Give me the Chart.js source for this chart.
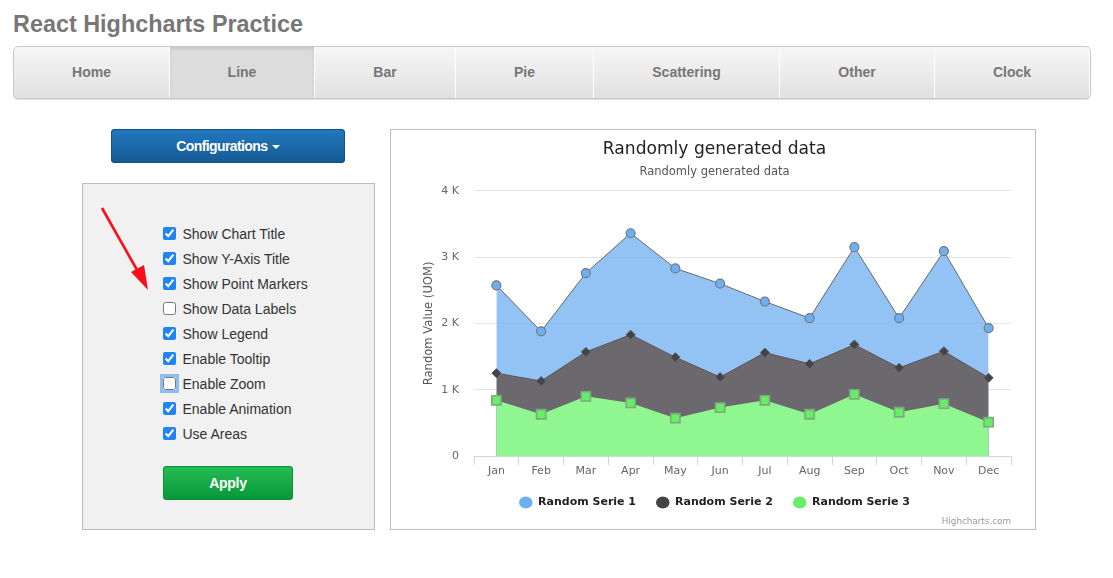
<!DOCTYPE html>
<html>
<head>
<meta charset="utf-8">
<title>React Highcharts Practice</title>
<script src="https://cdn.jsdelivr.net/npm/chart.js@4/dist/chart.umd.min.js"></script>
<style>
  html, body { margin: 0; padding: 0; background: #fff; }
  body { width: 1113px; height: 578px; position: relative; overflow: hidden; font-family: "Liberation Sans", Arial, sans-serif; }
  h1 { position: absolute; left: 13px; top: 10px; margin: 0; font-size: 23.4px; line-height: 28px; font-weight: bold; color: #777; }
  #nav { position: absolute; left: 13px; top: 46px; width: 1076px; height: 51px; border: 1px solid #c8c8c8; border-radius: 5px; background: linear-gradient(#f6f6f6, #e1e1e1); box-shadow: 0 1px 1px #ddd; overflow: hidden; }
  #nav div { position: absolute; top: 0; height: 51px; line-height: 51px; text-align: center; font-size: 14px; font-weight: bold; color: #777; border-right: 1px solid #fff; box-sizing: border-box; }
  #nav div.active { background: #dcdcdc; box-shadow: inset 0 2px 3px #c4c4c4; }
  #configBtn { position: absolute; left: 111px; top: 129px; width: 234px; height: 34px; line-height: 34px; text-align: center; color: #fff; font-size: 14px; font-weight: bold; letter-spacing: -0.6px; border-radius: 4px; background: linear-gradient(#2279c0, #155a92); box-shadow: inset 0 0 0 1px #14507f; }
  #configBtn i { display: inline-block; width: 0; height: 0; margin-left: 1px; vertical-align: middle; border-top: 4px solid #fff; border-left: 4px solid transparent; border-right: 4px solid transparent; }
  #panel { position: absolute; left: 82px; top: 183px; width: 291px; height: 345px; border: 1px solid #bbb; background: #f1f1f1; }
  .opt { position: absolute; left: 163px; height: 20px; line-height: 20px; font-size: 14px; color: #333; white-space: nowrap; }
  .opt input { position: absolute; left: 0; top: 3px; width: 13px; height: 13px; margin: 0; accent-color: #1f84f5; }
  .opt span { position: absolute; left: 19.5px; top: 0; }
  .opt.focus input { box-shadow: 0 0 0 3px #8dbdf5; border-radius: 2px; }
  #applyBtn { position: absolute; left: 163px; top: 466px; width: 130px; height: 34px; line-height: 34px; text-align: center; color: #fff; font-size: 14px; font-weight: bold; letter-spacing: -0.3px; border-radius: 4px; background: linear-gradient(#25bd52, #07973a); box-shadow: inset 0 0 0 1px #0d8c3a; }
  #arrow { position: absolute; left: 0; top: 0; }
  #chartBox { position: absolute; left: 390px; top: 129px; width: 644px; height: 399px; border: 1px solid #bbb; background: #fff; }
  #chartBox canvas { position: absolute; left: 0; top: 0; }
  #credit { position: absolute; right: 24px; top: 385px; font-family: "DejaVu Sans", sans-serif; font-size: 8.8px; line-height: 12px; color: #999; }
</style>
</head>
<body>
<h1>React Highcharts Practice</h1>
<div id="nav"></div>
<div id="configBtn">Configurations <i></i></div>
<div id="panel"></div>
<div id="options"></div>
<div id="applyBtn">Apply</div>
<svg id="arrow" width="200" height="320">
  <line x1="102" y1="208" x2="141" y2="277" stroke="#fb0d1b" stroke-width="2.6"/>
  <polygon points="148,290 131,272 144,265" fill="#fb0d1b"/>
</svg>
<div id="chartBox">
  <canvas id="chart" width="644" height="399"></canvas>
  <div id="credit">Highcharts.com</div>
</div>

<script>
// Chart data
const months = ['Jan', 'Feb', 'Mar', 'Apr', 'May', 'Jun', 'Jul', 'Aug', 'Sep', 'Oct', 'Nov', 'Dec'];
const serie1 = [2575, 1880, 2760, 3360, 2830, 2600, 2330, 2080, 3150, 2080, 3090, 1930];
const serie2 = [1250, 1130, 1570, 1830, 1490, 1190, 1560, 1390, 1680, 1330, 1580, 1180];
const serie3 = [840, 630, 900, 800, 570, 730, 840, 630, 930, 660, 790, 510];
const serieNames = ['Random Serie 1', 'Random Serie 2', 'Random Serie 3'];
const yTicks = [0, 1000, 2000, 3000, 4000];

// Page furniture
const navItems = ['Home', 'Line', 'Bar', 'Pie', 'Scattering', 'Other', 'Clock'];
const navEdges = [0, 156, 301, 442, 580, 766, 921, 1076];
const optionLabels = ['Show Chart Title', 'Show Y-Axis Title', 'Show Point Markers', 'Show Data Labels', 'Show Legend', 'Enable Tooltip', 'Enable Zoom', 'Enable Animation', 'Use Areas'];
const optionChecked = [true, true, true, false, true, true, false, true, true];

const nav = document.getElementById('nav');
navItems.forEach((name, i) => {
  const item = document.createElement('div');
  item.textContent = name;
  item.style.left = navEdges[i] + 'px';
  item.style.width = (navEdges[i + 1] - navEdges[i]) + 'px';
  if (name === 'Line') item.className = 'active';
  nav.appendChild(item);
});

const optionsBox = document.getElementById('options');
optionLabels.forEach((label, i) => {
  const row = document.createElement('label');
  row.className = 'opt' + (label === 'Enable Zoom' ? ' focus' : '');
  row.style.top = (224 + i * 25) + 'px';
  const box = document.createElement('input');
  box.type = 'checkbox';
  box.checked = optionChecked[i];
  const text = document.createElement('span');
  text.textContent = label;
  row.appendChild(box);
  row.appendChild(text);
  optionsBox.appendChild(row);
});

const chartFont = '"DejaVu Sans", sans-serif';
const legendColors = ['#6cb0f3', '#434348', '#66ee66'];

new Chart(document.getElementById('chart'), {
  type: 'line',
  data: {
    labels: months,
    datasets: [
      {
        label: serieNames[0], data: serie1, order: 3, fill: 'origin',
        backgroundColor: 'rgba(119, 180, 241, 0.8)', borderColor: '#666', borderWidth: 1,
        pointStyle: 'circle', pointRadius: 4.5, pointBackgroundColor: '#6cb0f3',
        pointBorderColor: '#777', pointBorderWidth: 1.2
      },
      {
        label: serieNames[1], data: serie2, order: 2, fill: 'origin',
        backgroundColor: 'rgba(101, 90, 86, 0.85)', borderColor: '#555', borderWidth: 1,
        pointStyle: 'rectRot', pointRadius: 4.5, pointBackgroundColor: '#434348',
        pointBorderColor: '#555', pointBorderWidth: 1
      },
      {
        label: serieNames[2], data: serie3, order: 1, fill: 'origin',
        backgroundColor: '#90f790', borderColor: '#777', borderWidth: 0,
        pointStyle: 'rect', pointRadius: 6.5, pointBackgroundColor: '#66ee66',
        pointBorderColor: '#7fa87f', pointBorderWidth: 1.6
      }
    ]
  },
  options: {
    responsive: false,
    animation: false,
    tension: 0,
    layout: { padding: { left: 27, right: 24, top: 9, bottom: 11 } },
    plugins: {
      title: {
        display: true, text: 'Randomly generated data', color: '#222',
        font: { family: chartFont, size: 17.1, weight: 'normal' },
        padding: { top: 0, bottom: 6 }
      },
      subtitle: {
        display: true, text: 'Randomly generated data', color: '#555',
        font: { family: chartFont, size: 11.5, weight: 'normal' },
        padding: { top: 0, bottom: 11.5 }
      },
      legend: {
        position: 'bottom',
        labels: {
          usePointStyle: true, pointStyle: 'circle', boxHeight: 8.5, pointStyleWidth: 13.5, padding: 20,
          color: '#222', font: { family: chartFont, size: 11, weight: 'bold' },
          generateLabels: () => serieNames.map((name, i) => ({
            text: name,
            datasetIndex: i,
            fontColor: '#222',
            fillStyle: legendColors[i],
            strokeStyle: legendColors[i],
            lineWidth: 0,
            pointStyle: 'circle'
          }))
        }
      },
      tooltip: { enabled: false }
    },
    scales: {
      x: {
        offset: true,
        afterFit: scale => { scale.height = 21; },
        border: { color: '#ccd6eb', width: 1 },
        grid: { offset: true, drawOnChartArea: false, drawTicks: true, tickLength: 9, tickColor: '#ccd6eb' },
        ticks: { color: '#666', padding: 0, maxRotation: 0, font: { family: chartFont, size: 11 } }
      },
      y: {
        min: 0, max: 4000,
        afterFit: scale => { scale.width = 56; },
        afterBuildTicks: scale => { scale.ticks = yTicks.map(value => ({ value })); },
        border: { display: false },
        grid: { color: '#e6e6e6', drawTicks: false },
        title: { display: true, text: 'Random Value (UOM)', color: '#555', padding: { top: 4, bottom: 0 }, font: { family: chartFont, size: 11.6 } },
        ticks: {
          color: '#666', padding: 15, font: { family: chartFont, size: 11 },
          callback: value => value === 0 ? '0' : (value / 1000) + ' K'
        }
      }
    }
  }
});
</script>
</body>
</html>
